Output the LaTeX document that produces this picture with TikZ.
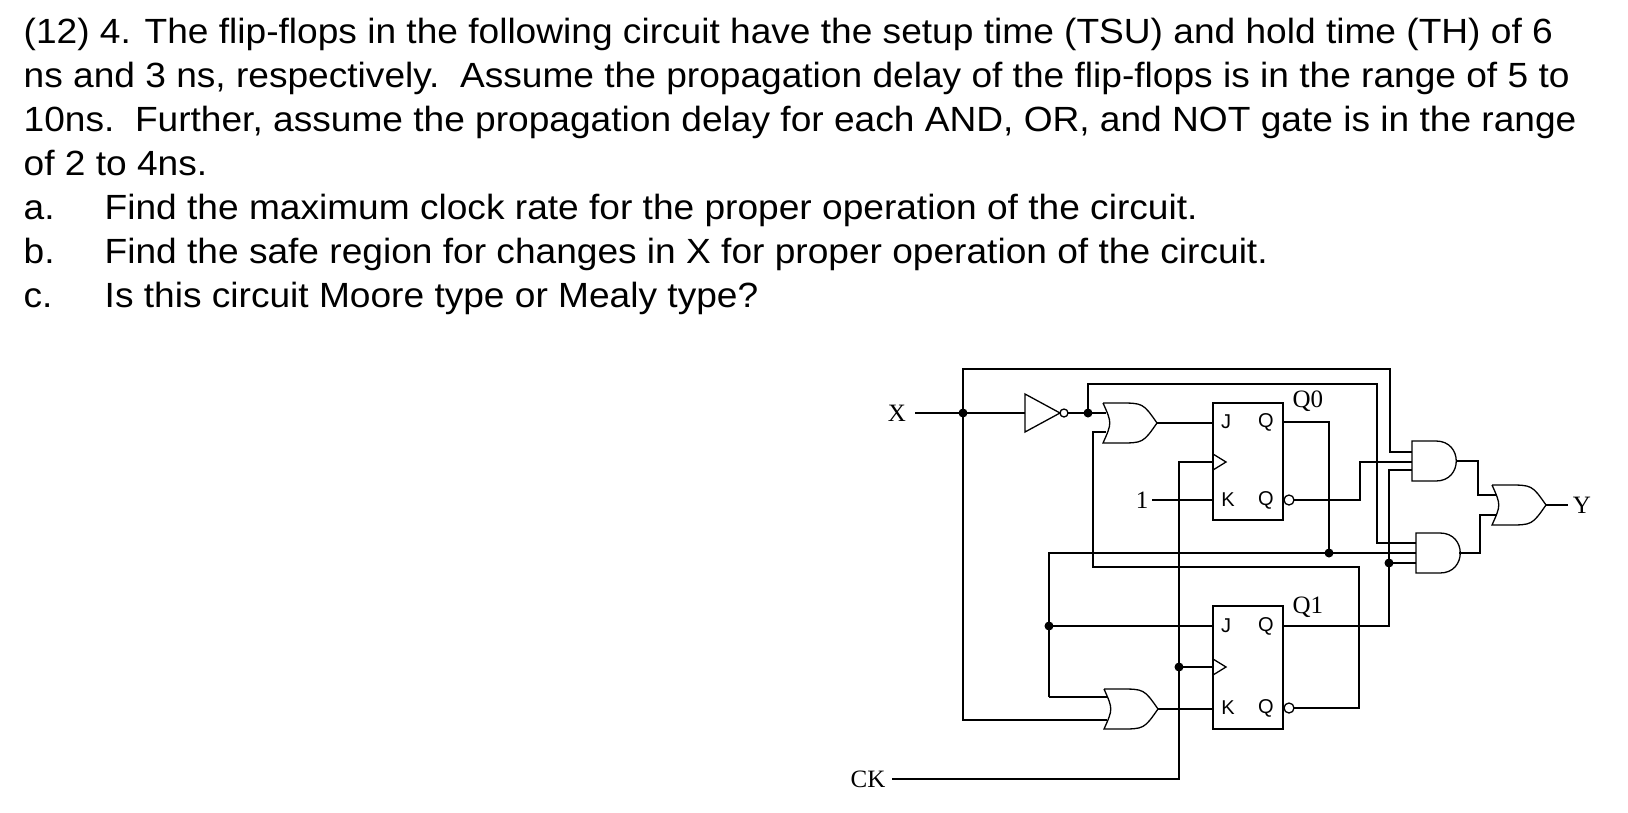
\documentclass[tikz,border=0pt]{standalone}
\usepackage{fontspec}
\setmainfont{Liberation Sans}
\newfontfamily\tm{Liberation Serif}
\begin{document}
\begin{tikzpicture}[x=1pt,y=-1pt,line width=1.3pt,
  txt/.style={anchor=base west,inner sep=0,font=\fontsize{35}{35}\selectfont,xscale=1.06},
  lbl/.style={inner sep=0,font=\tm\fontsize{25}{25}\selectfont},
  pin/.style={inner sep=0,font=\fontsize{20}{20}\selectfont},
  dot/.style={circle,fill,inner sep=0,minimum size=9pt},
  orp/.pic={\draw (0,-20) -- (16,-20) .. controls (40,-20) .. (54,0) .. controls (40,20) .. (16,20) -- (0,20) .. controls (9,0) .. (0,-20);},
  andp/.pic={\draw (24,-20) -- (0,-20) -- (0,20) -- (24,20) .. controls (51,20) and (51,-20) .. (24,-20);}]
\useasboundingbox (0,0) rectangle (1628,812);
% question text
\node[txt] (t1) at (23,43) {(12) 4. The flip-flops in the following circuit have the setup time (TSU) and hold time (TH) of 6};
\node[txt] (t2) at (23,87) {ns and 3 ns, respectively.\ \ Assume the propagation delay of the flip-flops is in the range of 5 to};
\node[txt] (t3) at (23,131) {10ns.\ \ Further, assume the propagation delay for each AND, OR, and NOT gate is in the range};
\node[txt] (t4) at (23,175) {of 2 to 4ns.};
\node[txt] (a) at (23,219) {a.};
\node[txt] (ta) at (104,219) {Find the maximum clock rate for the proper operation of the circuit.};
\node[txt] (b) at (23,263) {b.};
\node[txt] (tb) at (104,263) {Find the safe region for changes in X for proper operation of the circuit.};
\node[txt] (c) at (23,307) {c.};
\node[txt] (tc) at (104,307) {Is this circuit Moore type or Mealy type?};
% labels
\node[lbl] (X) at (897,413) {X};
\node[lbl] (CK) at (868,779) {CK};
\node[lbl] (Y) at (1582,505) {Y};
\node[lbl] (one) at (1142,500) {1};
\node[lbl,anchor=west] (q0l) at (1292,401) {Q0};
\node[lbl,anchor=west] (q1l) at (1292,607) {Q1};
% flip-flops
\draw (1213,403) rectangle (1283,520);
\draw (1213,606) rectangle (1283,729);
\node[pin] (j0) at (1226,422) {J}; \node[pin] (q0) at (1266,422) {Q};
\node[pin] (k0) at (1228,500) {K}; \node[pin] (nq0) at (1266,500) {Q};
\node[pin] (j1) at (1226,626) {J}; \node[pin] (q1) at (1266,626) {Q};
\node[pin] (k1) at (1228,708) {K}; \node[pin] (nq1) at (1266,708) {Q};
\draw (1213,454) -- (1226,462) -- (1213,470);
\draw (1213,659) -- (1226,667) -- (1213,675);
\draw (1289,500) circle (5); \draw (1289,708) circle (5);
% inverter
\draw (1025,394) -- (1060,413) -- (1025,432) -- cycle;
\draw (1064,413) circle (4);
% gates
\pic at (1103,423) {orp};
\pic at (1104,709) {orp};
\pic at (1412,461) {andp};
\pic at (1416,553) {andp};
\pic at (1492,505) {orp};
% coordinates
\coordinate (jx) at (963,413);
\coordinate (jnx) at (1088,413);
\coordinate (jq0) at (1329,553);
\coordinate (jq1) at (1049,626);
\coordinate (jck) at (1179,667);
\coordinate (jy1) at (1389,563);
% wires
\draw (915,413) -- (jx) -- (1025,413);
\draw (1068,413) -- (jnx) -- (1106,413);
\draw (jx) -- (963,369) -- (1390,369) -- (1390,452) -- (1412,452);
\draw (jx) -- (963,720) -- (1107,720);
\draw (jnx) -- (1088,384) -- (1377,384) -- (1377,543) -- (1416,543);
\draw (1106,432) -- (1093,432) -- (1093,567) -- (1359,567) -- (1359,708) -- (1294,708);
\draw (1157,423) -- (1213,423);
\draw (1152,500) -- (1213,500);
\draw (1283,422) -- (1329,422) -- (jq0);
\draw (1049,697) -- (jq1) -- (1049,553) -- (jq0) -- (1416,553);
\draw (jq1) -- (1213,626);
\draw (1294,500) -- (1360,500) -- (1360,462) -- (1412,462);
\draw (1283,626) -- (1389,626) -- (jy1) -- (1389,470) -- (1412,470);
\draw (jy1) -- (1416,563);
\draw (1049,697) -- (1107,697);
\draw (1158,709) -- (1213,709);
\draw (892,779) -- (1179,779) -- (jck) -- (1179,462) -- (1213,462);
\draw (jck) -- (1213,667);
\draw (1456,461) -- (1478,461) -- (1478,495) -- (1497,495);
\draw (1459,553) -- (1480,553) -- (1480,515) -- (1497,515);
\draw (1546,505) -- (1568,505);
% dots
\foreach \p in {jx,jnx,jq0,jq1,jck,jy1} \node[dot] at (\p) {};
\end{tikzpicture}
\end{document}
